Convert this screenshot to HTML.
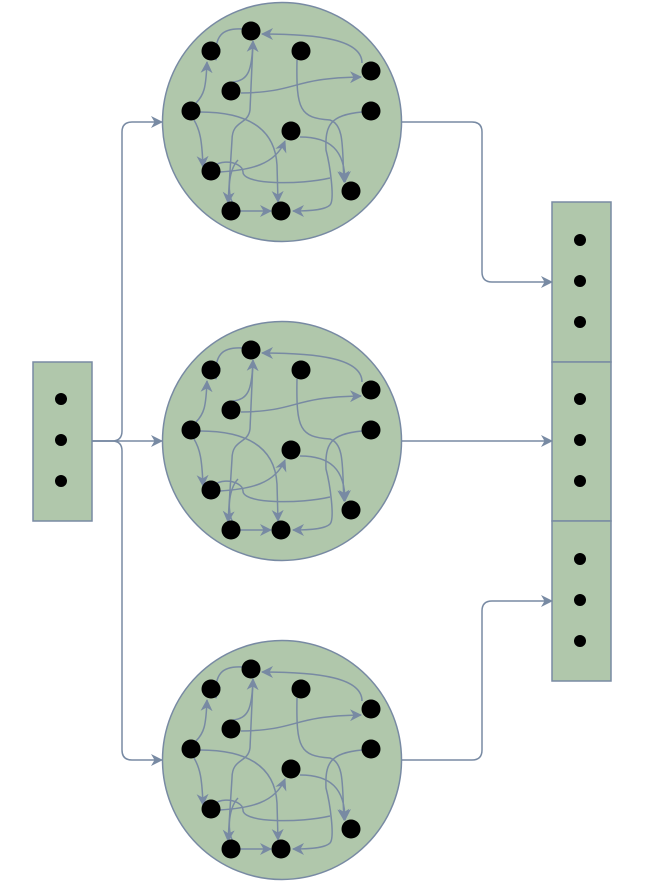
<!DOCTYPE html>
<html><head><style>html,body{margin:0;padding:0;background:#fff}</style></head>
<body>
<svg width="645" height="884" viewBox="0 0 645 884" xmlns="http://www.w3.org/2000/svg">
<defs>
<marker id="a" markerWidth="12" markerHeight="12" refX="11" refY="6" orient="auto" markerUnits="userSpaceOnUse">
<path d="M0,0 L12,6 L0,12 L3.5,6 Z" fill="#788aa3"/>
</marker>
<g id="c">
<circle cx="282" cy="122" r="119.5" fill="#b0c7ab" stroke="#788aa3" stroke-width="1.5"/>
<g fill="none" stroke="#788aa3" stroke-width="1.5" marker-end="url(#a)">
<path d="M242,29 C222,28 214,36 216,60"/>
<path d="M362,63 C362,40 320,34 262,34"/>
<path d="M196,103 C204,95 206,88 207,62"/>
<path d="M233,82 C248,80 252,72 253,41"/>
<path d="M241,93 C300,92 290,78 361,77"/>
<path d="M253,42 L250,110 C248,125 232,120 232,140 L228,203"/>
<path d="M297,60 C296,110 300,118 330,120 C345,125 342,150 344,182"/>
<path d="M362,112 C330,115 325,125 326,150 C330,165 335,200 330,205 C325,210 310,211 293,211"/>
<path d="M200,112 C250,112 275,130 277,165 L278,202"/>
<path d="M194,120 C200,130 202,140 203,167"/>
<path d="M220,172 C250,170 275,165 285,141"/>
<path d="M300,137 C330,137 345,150 345,182"/>
<path d="M240,211 L271,211"/>
<path d="M208,180 C208,155 243,160 243,172 C243,185 300,185 330,178" marker-end="none"/>
<path d="M238,210 C225,200 228,170 238,160" marker-end="none"/>
</g>
<g fill="#000">
<circle cx="211" cy="51" r="9.5"/><circle cx="251" cy="31" r="9.5"/><circle cx="301" cy="51" r="9.5"/>
<circle cx="371" cy="71" r="9.5"/><circle cx="231" cy="91" r="9.5"/><circle cx="191" cy="111" r="9.5"/>
<circle cx="371" cy="111" r="9.5"/><circle cx="291" cy="131" r="9.5"/><circle cx="211" cy="171" r="9.5"/>
<circle cx="351" cy="191" r="9.5"/><circle cx="231" cy="211" r="9.5"/><circle cx="281" cy="211" r="9.5"/>
</g>
</g>
</defs>
<use href="#c"/>
<use href="#c" transform="translate(0,319)"/>
<use href="#c" transform="translate(0,638)"/>

<g fill="#b0c7ab" stroke="#788aa3" stroke-width="1.5">
<rect x="33" y="362" width="59" height="159"/>
<rect x="552" y="202" width="59" height="160"/>
<rect x="552" y="362" width="59" height="159"/>
<rect x="552" y="521" width="59" height="160"/>
</g>
<g fill="#000">
<circle cx="61" cy="399" r="6"/><circle cx="61" cy="440" r="6"/><circle cx="61" cy="481" r="6"/>
<circle cx="580" cy="240" r="6"/><circle cx="580" cy="281" r="6"/><circle cx="580" cy="322" r="6"/>
<circle cx="580" cy="399" r="6"/><circle cx="580" cy="440" r="6"/><circle cx="580" cy="481" r="6"/>
<circle cx="580" cy="559" r="6"/><circle cx="580" cy="600" r="6"/><circle cx="580" cy="641" r="6"/>
</g>
<g fill="none" stroke="#788aa3" stroke-width="1.5" marker-end="url(#a)">
<path d="M92,441 L112,441 Q122,441 122,431 L122,132 Q122,122 132,122 L162,122"/>
<path d="M92,441 L162,441"/>
<path d="M92,441 L112,441 Q122,441 122,451 L122,750 Q122,760 132,760 L162,760"/>
<path d="M402,122 L472,122 Q482,122 482,132 L482,272 Q482,282 492,282 L552,282"/>
<path d="M402,441 L552,441"/>
<path d="M402,760 L472,760 Q482,760 482,750 L482,611 Q482,601 492,601 L552,601"/>
</g>
</svg>
</body></html>
